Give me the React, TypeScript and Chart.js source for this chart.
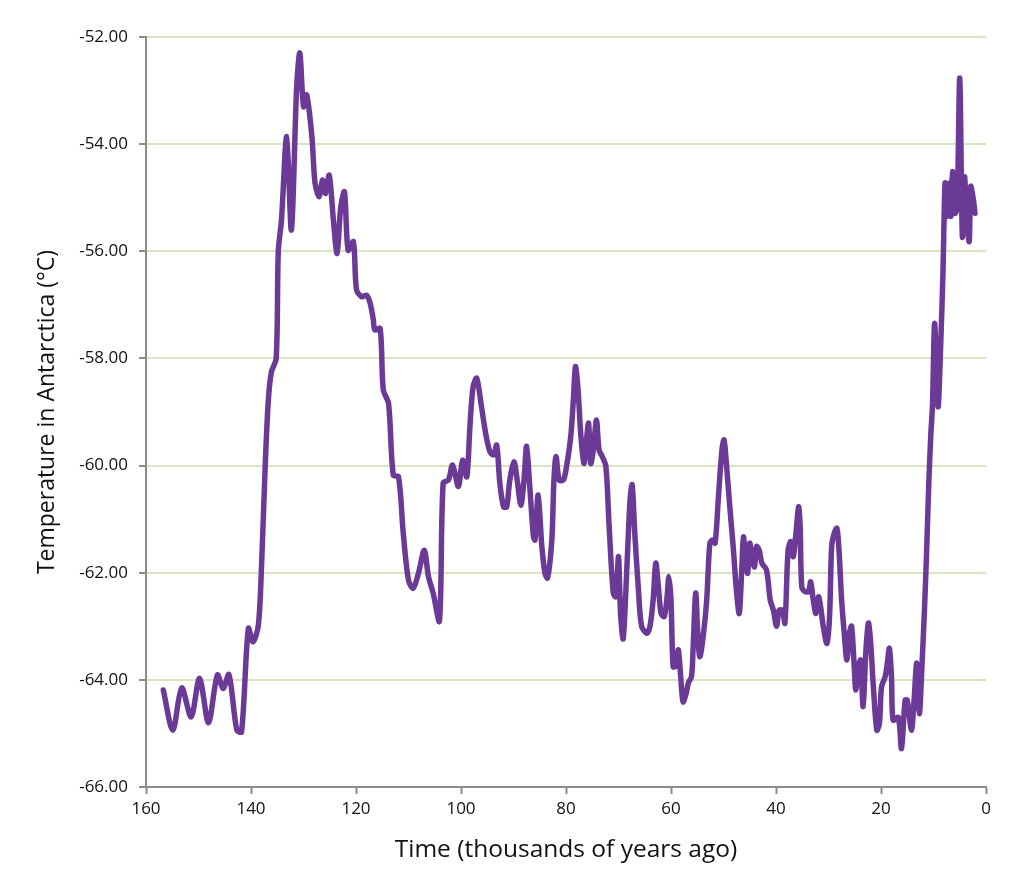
import React, { useEffect, useRef } from "react";
import { Chart, registerables } from "chart.js";

Chart.register(...registerables);

// Time (thousands of years ago)
const years: number[] = [
  156.7, 154.9, 153.2, 151.4, 149.8, 148.1, 146.4, 145.3, 144.2, 142.7, 141.8, 140.5, 139.6, 138.6,
  138.0, 137.3, 136.7, 136.1, 135.2, 134.8, 134.2, 133.2, 132.3, 131.3, 130.7, 130.0, 129.4, 128.4,
  127.8, 127.0, 126.4, 125.8, 125.1, 124.3, 123.6, 122.9, 122.2, 121.5, 120.5, 119.9, 118.9, 118.0,
  117.3, 116.7, 116.4, 115.4, 114.8, 113.8, 112.9, 111.9, 111.0, 110.0, 109.1, 108.1, 107.0, 106.2,
  105.3, 104.1, 103.4, 102.4, 101.6, 100.5, 99.7, 98.9, 98.3, 97.7, 97.0, 96.1, 95.3, 94.5,
  93.8, 93.2, 92.6, 91.9, 91.3, 90.7, 89.9, 89.3, 88.6, 88.0, 87.5, 86.9, 86.2, 85.9,
  85.3, 84.6, 84.0, 83.5, 82.7, 82.3, 81.9, 81.3, 80.5, 79.9, 79.1, 78.6, 78.2, 77.7,
  77.2, 76.6, 76.1, 75.7, 75.3, 74.8, 74.2, 73.7, 73.1, 72.4, 71.8, 71.0, 70.5, 70.0,
  69.6, 69.1, 68.4, 67.8, 67.4, 66.9, 66.2, 65.6, 64.6, 64.0, 63.4, 62.9, 62.4, 61.9,
  61.3, 60.8, 60.4, 60.0, 59.6, 59.1, 58.6, 58.2, 57.7, 57.1, 56.7, 56.1, 55.8, 55.3,
  54.9, 54.5, 53.8, 53.2, 52.6, 52.1, 51.6, 51.0, 50.3, 49.9, 49.4, 48.8, 48.1, 47.5,
  47.0, 46.5, 46.2, 45.8, 45.4, 45.0, 44.5, 44.1, 43.7, 43.2, 42.7, 41.8, 41.1, 40.5,
  39.9, 39.4, 38.8, 38.3, 37.7, 37.2, 36.7, 36.2, 35.7, 35.4, 35.1, 34.5, 33.8, 33.4,
  32.9, 32.4, 31.9, 31.5, 31.0, 30.3, 29.8, 29.4, 28.9, 28.4, 28.0, 27.5, 27.0, 26.5,
  26.0, 25.6, 25.1, 24.8, 24.3, 23.9, 23.4, 22.9, 22.4, 22.0, 21.5, 20.8, 20.3, 19.9,
  19.2, 18.8, 18.4, 18.0, 17.7, 16.7, 16.1, 15.4, 15.0, 14.2, 13.7, 13.2, 12.7, 12.2,
  11.7, 11.3, 10.9, 10.5, 10.2, 9.8, 9.4, 9.1, 8.6, 8.2, 7.8, 7.5, 7.0, 6.7,
  6.4, 5.9, 5.5, 5.0, 4.5, 4.1, 3.7, 3.2, 2.9, 2.4, 2.1,
];

// Temperature in Antarctica (°C)
const temps: number[] = [
  -64.19, -64.94, -64.15, -64.69, -63.97, -64.8, -63.91, -64.16, -63.9, -64.94, -64.97, -63.04, -63.29, -62.98,
  -61.89, -60.02, -58.78, -58.25, -58.0, -56.0, -55.42, -53.86, -55.6, -52.93, -52.3, -53.3, -53.08, -53.86,
  -54.73, -54.98, -54.67, -54.92, -54.58, -55.42, -56.04, -55.17, -54.89, -55.98, -55.82, -56.72, -56.85, -56.82,
  -56.97, -57.28, -57.47, -57.44, -58.59, -58.84, -60.18, -60.21, -61.26, -62.14, -62.29, -62.01, -61.58, -62.07,
  -62.38, -62.9, -60.33, -60.27, -59.99, -60.39, -59.9, -60.21, -59.27, -58.53, -58.37, -58.9, -59.4, -59.74,
  -59.8, -59.62, -60.33, -60.77, -60.77, -60.27, -59.93, -60.27, -60.74, -60.27, -59.64, -60.39, -61.33, -61.39,
  -60.55, -61.51, -62.01, -62.1, -61.39, -60.27, -59.83, -60.27, -60.27, -60.02, -59.46, -58.78, -58.15, -58.59,
  -59.4, -59.96, -59.52, -59.21, -59.96, -59.71, -59.15, -59.71, -59.83, -60.02, -61.1, -62.38, -62.45, -61.7,
  -62.78, -63.23, -61.89, -60.64, -60.36, -61.26, -62.32, -63.0, -63.13, -63.0, -62.51, -61.82, -62.26, -62.76,
  -62.82, -62.51, -62.07, -62.51, -63.75, -63.75, -63.44, -63.88, -64.41, -64.25, -64.06, -63.94, -63.44, -62.38,
  -63.13, -63.57, -63.13, -62.51, -61.45, -61.39, -61.45, -60.64, -59.71, -59.52, -60.02, -60.77, -61.58, -62.38,
  -62.76, -61.89, -61.33, -61.76, -62.01, -61.45, -61.76, -61.89, -61.51, -61.58, -61.82, -61.95, -62.51, -62.7,
  -63.0, -62.7, -62.7, -62.94, -61.58, -61.42, -61.7, -61.26, -60.77, -61.14, -62.26, -62.35, -62.35, -62.17,
  -62.51, -62.76, -62.45, -62.64, -63.0, -63.32, -62.82, -61.51, -61.26, -61.17, -61.58, -62.51, -63.13, -63.63,
  -63.13, -63.0, -63.75, -64.19, -63.75, -63.63, -64.5, -63.5, -62.94, -63.26, -64.06, -64.94, -64.81, -64.13,
  -63.94, -63.69, -63.41, -63.94, -64.75, -64.7, -65.28, -64.38, -64.38, -64.94, -64.38, -63.69, -64.63, -63.75,
  -62.64, -61.58, -60.33, -59.4, -58.9, -57.35, -58.28, -58.9, -57.66, -56.41, -54.73, -55.35, -54.73, -55.35,
  -54.51, -55.29, -55.17, -52.77, -55.73, -54.61, -55.29, -55.82, -54.79, -55.04, -55.29,
];

const xTickValues: number[] = [160, 140, 120, 100, 80, 60, 40, 20, 0];
const yTickValues: number[] = [-66, -64, -62, -60, -58, -56, -54, -52];

const xTitle = "Time (thousands of years ago)";
const yTitle = "Temperature in Antarctica (°C)";

export default function App() {
  const canvasRef = useRef<HTMLCanvasElement | null>(null);

  useEffect(() => {
    const canvas = canvasRef.current;
    if (!canvas) return;
    const points = years.map((x, i) => ({ x, y: temps[i] }));
    const chart = new Chart(canvas, {
      type: "line",
      data: {
        datasets: [
          {
            data: points,
            borderColor: "#6b3a97",
            borderWidth: 5.5,
            pointRadius: 0,
            tension: 0.3,
            fill: false,
            borderCapStyle: "round",
            borderJoinStyle: "round",
          },
        ],
      },
      options: {
        responsive: false,
        animation: false,
        layout: { padding: { top: 37, right: 38, bottom: 0, left: 0 } },
        plugins: { legend: { display: false }, tooltip: { enabled: false } },
        scales: {
          x: {
            type: "linear",
            reverse: true,
            min: 0,
            max: 160,
            afterBuildTicks: (scale: any) => {
              scale.ticks = xTickValues.map((v) => ({ value: v }));
            },
            afterFit: (scale: any) => {
              scale.height = 92;
            },
            ticks: {
              font: { family: "'Open Sans'", size: 17 },
              color: "#111",
              padding: 5,
              maxRotation: 0,
              autoSkip: false,
            },
            grid: {
              drawOnChartArea: false,
              drawTicks: true,
              tickLength: 7,
              tickColor: "#8c8c8c",
              tickWidth: 2,
            },
            border: { display: true, color: "#8c8c8c", width: 2 },
            title: {
              display: true,
              text: xTitle,
              font: { family: "'Open Sans'", size: 24.5 },
              color: "#111",
              padding: { top: 0, bottom: 14 },
            },
          },
          y: {
            type: "linear",
            min: -66,
            max: -52,
            afterBuildTicks: (scale: any) => {
              scale.ticks = yTickValues.map((v) => ({ value: v }));
            },
            afterFit: (scale: any) => {
              scale.width = 146;
            },
            ticks: {
              font: { family: "'Open Sans'", size: 17 },
              color: "#111",
              padding: 11,
              callback: (v: any) => Number(v).toFixed(2),
            },
            grid: {
              color: "#d9e5c0",
              lineWidth: 2,
              drawTicks: true,
              tickLength: 7,
              tickColor: "#8c8c8c",
              tickWidth: 2,
            },
            border: { display: true, color: "#8c8c8c", width: 2 },
            title: {
              display: true,
              text: yTitle,
              font: { family: "'Open Sans'", size: 23 },
              color: "#111",
              padding: { top: 34, bottom: 0 },
            },
          },
        },
      },
    });
    return () => chart.destroy();
  }, []);

  return (
    <div style={{ position: "absolute", left: 0, top: 0, width: 1024, height: 879, background: "#fff" }}>
      <canvas ref={canvasRef} width={1024} height={879} style={{ display: "block" }} />
    </div>
  );
}
